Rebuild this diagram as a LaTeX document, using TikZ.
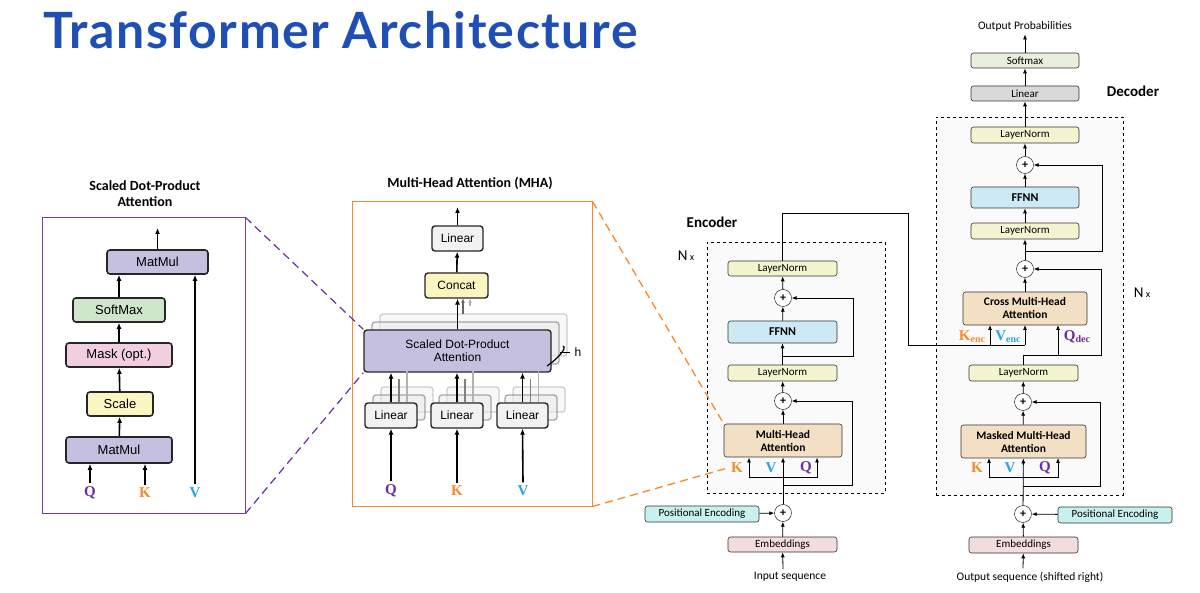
\documentclass[tikz,border=0pt]{standalone}
\usepackage{fontspec}
\setmainfont{Carlito}
\newfontfamily\hel{Liberation Sans}
\newfontfamily\ttl[LetterSpace=3]{Lato}
\newfontfamily\ser{Liberation Serif}
\usetikzlibrary{arrows.meta,decorations.pathreplacing}
\definecolor{tblue}{HTML}{1F4FB5}
\definecolor{ko}{HTML}{F58A2C}
\definecolor{vb}{HTML}{29A3E8}
\definecolor{qp}{HTML}{6A2EA0}
\definecolor{purp}{HTML}{C5C0E0}
\begin{document}
\begin{tikzpicture}[x=1pt,y=-1pt,
 bx/.style={draw=black!80,rounded corners=2.5pt,inner sep=0,font=\fontsize{11}{11}\selectfont,line width=0.6pt},
 ln/.style={bx,fill={rgb,255:red,244;green,245;blue,208}},
 ff/.style={bx,fill={rgb,255:red,205;green,233;blue,245},font=\fontsize{12}{12}\selectfont\bfseries},
 mh/.style={bx,fill={rgb,255:red,242;green,223;blue,196},font=\fontsize{11.5}{13}\selectfont\bfseries,align=center},
 pl/.style={circle,draw,fill=white,minimum size=17pt,inner sep=0,font=\fontsize{12}{12}\selectfont\bfseries},
 ar/.style={-{Latex[length=5pt,width=4pt]},line width=0.8pt},
 ln0/.style={line width=0.8pt},
 lb/.style={font=\ser\fontsize{15}{15}\selectfont\bfseries},
 lb2/.style={font=\ser\fontsize{15}{15}\selectfont\bfseries},
 lp/.style={draw=black!85,line width=1.6pt,rounded corners=3pt,inner sep=0,font=\hel\fontsize{13}{14}\selectfont},
 mp/.style={draw=black!85,line width=1.4pt,rounded corners=3pt,inner sep=0,font=\hel\fontsize{12}{13}\selectfont,align=center,fill=black!5},
 arL/.style={-{Latex[length=6pt,width=5pt]},line width=1.6pt},
 dbox/.style={draw,dashed,line width=0.8pt,fill=black!2}]
\useasboundingbox (0,0) rectangle (1200,593);
\fill[white] (0,0) rectangle (1200,593);
\node[anchor=west,text=tblue,font=\ttl\bfseries\fontsize{50}{50}\selectfont] (title) at (40,30) {Transformer Architecture};

% ---------- left panel
\node[font=\fontsize{14}{16}\selectfont\bfseries,align=center] (lt) at (145,194) {Scaled Dot-Product\\Attention};
\node[draw={rgb,255:red,120;green,60;blue,170},line width=1pt,minimum width=203pt,minimum height=295pt,inner sep=0] (lbox) at (143.5,365.5) {};
\node[lp,fill=purp,minimum width=101pt,minimum height=24pt] (mm1) at (157.5,262) {MatMul};
\node[lp,fill={rgb,255:red,207;green,229;blue,204},minimum width=92pt,minimum height=24pt] (sm) at (119,310) {SoftMax};
\node[lp,fill={rgb,255:red,242;green,207;blue,224},minimum width=106pt,minimum height=24pt] (mask) at (119,355) {Mask (opt.)};
\node[lp,fill={rgb,255:red,251;green,245;blue,192},minimum width=66pt,minimum height=24pt] (sc) at (120,404) {Scale};
\node[lp,fill=purp,minimum width=106pt,minimum height=26pt] (mm2) at (119,450) {MatMul};
\node[lb,text=qp] (lq) at (90,493) {Q};
\node[lb,text=ko] (lk) at (145,493) {K};
\node[lb,text=vb] (lv) at (195,493) {V};
\coordinate (ltop) at (157.5,228);
\draw[arL] (lq.north) -- (lq.north |- mm2.south);
\draw[arL] (lk.north) -- (lk.north |- mm2.south);
\draw[arL] (lv.north) -- (lv.north |- mm1.south);
\draw[arL] (mm2) -- (sc);
\draw[arL] (sc) -- (mask);
\draw[arL] (mask) -- (sm);
\draw[arL] (sm.north) -- (sm.north |- mm1.south);
\draw[arL] (mm1) -- (ltop);

% ---------- middle panel
\node[font=\fontsize{14}{16}\selectfont\bfseries] (mt) at (470,183) {Multi-Head Attention (MHA)};
\node[draw=ko,line width=1pt,minimum width=240pt,minimum height=304pt,inner sep=0] (mbox) at (472,354) {};
\foreach \d/\o in {16/0.3,8/0.55}{
 \draw[black!60,opacity=\o,line width=1.3pt,fill=black!8,rounded corners=3pt] (364+\d,330-\d) rectangle (551+\d,372-\d);
 \foreach \xx in {365,431,497}{
  \draw[black!60,opacity=\o,line width=1.3pt,fill=black!8,rounded corners=3pt] (\xx+\d,403-\d) rectangle (\xx+52+\d,428-\d);}
}
\node[mp,fill=purp,minimum width=187pt,minimum height=42pt] (sdpa) at (457.5,351) {Scaled Dot-Product\\Attention};
\node[mp,minimum width=51pt,minimum height=25pt] (mlin) at (457.5,238.5) {Linear};
\node[mp,fill={rgb,255:red,251;green,245;blue,192},minimum width=63pt,minimum height=25pt] (cc) at (456.5,285.5) {Concat};
\node[mp,minimum width=52pt,minimum height=25pt] (l1) at (391,415.5) {Linear};
\node[mp,minimum width=52pt,minimum height=25pt] (l2) at (457,415.5) {Linear};
\node[mp,minimum width=51pt,minimum height=25pt] (l3) at (522.5,415.5) {Linear};
\node[lb,text=qp] (mq) at (391,491) {Q};
\node[lb,text=ko] (mk) at (457,491) {K};
\node[lb,text=vb] (mv) at (523,491) {V};
\coordinate (mtop) at (457.5,207);
\foreach \a/\b in {mq/l1,mk/l2,mv/l3}{\draw[arL] (\a.north) -- (\b.south);}
\foreach \b in {l1,l2,l3}{\draw[arL] (\b.north) -- (\b.north |- sdpa.south);
 \draw[black!50,line width=1.2pt] ([xshift=8pt]\b.north) -- ++(0,-23);
 \draw[black!30,line width=1.2pt] ([xshift=16pt]\b.north) -- ++(0,-31);}
\draw[arL] (sdpa.north) -- (sdpa.north |- cc.south);
\draw[-{Latex[length=5pt]},black!60,line width=1.2pt] (463,314) -- (463,298);
\draw[-{Latex[length=5pt]},black!30,line width=1.2pt] (470,306) -- (470,298);
\draw[arL] (cc) -- (mlin);
\draw[arL] (mlin) -- (mtop);
\draw[line width=1.2pt] (563,346) .. controls (568,348) and (556,360) .. (547,366);
\draw[line width=1pt] (560,353) -- (570,353);
\node[font=\hel\fontsize{12}{12}\selectfont] (hh) at (578,352) {h};

\draw[qp,line width=1.2pt,dash pattern=on 8pt off 5pt] (lbox.north east) -- (sdpa.north west);
\draw[qp,line width=1.2pt,dash pattern=on 8pt off 5pt] (lbox.south east) -- (sdpa.south west);

% ---------- encoder
\node[font=\fontsize{15}{15}\selectfont\bfseries] (enc) at (712,222) {Encoder};
\node[font=\fontsize{15}{15}\selectfont] (enx) at (686,256) {N\,{\fontsize{10}{10}\selectfont x}};
\node[dbox,minimum width=178pt,minimum height=251pt,inner sep=0] (ebox) at (796,367.5) {};
\node[ln,minimum width=109pt,minimum height=15pt] (eln2) at (782.5,268.5) {LayerNorm};
\node[pl] (ep2) at (783,298) {+};
\node[ff,minimum width=109pt,minimum height=22pt] (eff) at (782.5,332) {FFNN};
\node[ln,minimum width=109pt,minimum height=16pt] (eln1) at (782.5,373) {LayerNorm};
\node[pl] (ep1) at (783,401) {+};
\node[mh,minimum width=118pt,minimum height=33pt] (emha) at (783,440.5) {Multi-Head\\Attention};
\node[pl] (ep0) at (783,513) {+};
\node[bx,fill={rgb,255:red,200;green,240;blue,238},minimum width=114pt,minimum height=16pt] (epe) at (702,514) {Positional Encoding};
\node[bx,fill={rgb,255:red,242;green,220;blue,220},minimum width=109pt,minimum height=15pt] (eemb) at (782.5,544.5) {Embeddings};
\node[font=\fontsize{11.5}{11}\selectfont] (ein) at (790,577) {Input sequence};
\node[lb,text=ko] (ek) at (737,468) {K};
\node[lb,text=vb] (ev) at (771,468) {V};
\node[lb,text=qp] (eq) at (806,468) {Q};
\draw[ko,line width=1.3pt,dash pattern=on 8pt off 5pt] (mbox.north east) -- (emha.north west);
\draw[ko,line width=1.3pt,dash pattern=on 8pt off 5pt] (mbox.south east) -- (ek.west);
\draw[ar] (ein.north -| ep0) -- (eemb);
\draw[ar] (eemb) -- (ep0);
\draw[ar] (epe) -- (ep0);
\coordinate (eb) at (783,477);
\draw[ar] (ep0) -- (emha);
\draw[ar] (eb) -| (749,457.5);
\draw[ar] (eb) -| (817,457.5);
\draw[ar] (783,485) -| (852,401) -- (ep1);
\draw[ar] (emha) -- (ep1);
\draw[ar] (ep1) -- (eln1);
\draw[ar] (eln1) -- (eff);
\draw[ar] (783,356) -| (853,298) -- (ep2);
\draw[ar] (eff) -- (ep2);
\draw[ar] (ep2) -- (eln2);

% ---------- decoder
\node[font=\fontsize{15}{15}\selectfont\bfseries] (dec) at (1133,91) {Decoder};
\node[font=\fontsize{15}{15}\selectfont] (dnx) at (1142,293) {N\,{\fontsize{10}{10}\selectfont x}};
\node[dbox,minimum width=187pt,minimum height=378pt,inner sep=0] (dbx) at (1029.5,306) {};
\node[font=\fontsize{11.5}{11}\selectfont] (dout) at (1025,26) {Output Probabilities};
\node[bx,fill={rgb,255:red,232;green,239;blue,220},minimum width=108pt,minimum height=15pt] (dsm) at (1025,60.5) {Softmax};
\node[bx,fill=black!15,minimum width=108pt,minimum height=15pt] (dlin) at (1025,93.5) {Linear};
\node[ln,minimum width=108pt,minimum height=16pt] (dln3) at (1025,135) {LayerNorm};
\node[pl] (dp3) at (1025,165) {+};
\node[ff,minimum width=108pt,minimum height=21pt] (dff) at (1025,197.5) {FFNN};
\node[ln,minimum width=108pt,minimum height=16pt] (dln2) at (1025,231) {LayerNorm};
\node[pl] (dp2) at (1025,269) {+};
\node[mh,minimum width=124pt,minimum height=33pt] (dcr) at (1025,308.5) {Cross Multi-Head\\Attention};
\node[ln,minimum width=109pt,minimum height=16pt] (dln1) at (1023.5,373) {LayerNorm};
\node[pl] (dp1) at (1023,402) {+};
\node[mh,minimum width=125pt,minimum height=33pt] (dmm) at (1023.5,441.5) {Masked Multi-Head\\Attention};
\node[pl] (dp0) at (1023,514) {+};
\node[bx,fill={rgb,255:red,200;green,240;blue,238},minimum width=114pt,minimum height=16pt] (dpe) at (1115,515) {Positional Encoding};
\node[bx,fill={rgb,255:red,242;green,220;blue,220},minimum width=109pt,minimum height=16pt] (demb) at (1023.5,545) {Embeddings};
\node[font=\fontsize{11.5}{11}\selectfont] (din) at (1030,577) {Output sequence (shifted right)};
\node[lb,text=ko] (dk) at (977,468) {K};
\node[lb,text=vb] (dv) at (1010,468) {V};
\node[lb,text=qp] (dq) at (1045,468) {Q};
\node[lb2,text=ko] (dke) at (972,337) {K\raisebox{-2pt}{\fontsize{10}{10}\selectfont enc}};
\node[lb2,text=vb] (dve) at (1008,337) {V\raisebox{-2pt}{\fontsize{10}{10}\selectfont enc}};
\node[lb2,text=qp] (dqd) at (1077,337) {Q\raisebox{-2pt}{\fontsize{10}{10}\selectfont dec}};
\draw[ar] (din.north -| dp0) -- (demb);
\draw[ar] (demb) -- (dp0);
\draw[ar] (dpe) -- (dp0);
\draw[ar] (dp0) -- (dmm);
\coordinate (db) at (1023,477);
\draw[ar] (db) -| (989,458);
\draw[ar] (db) -| (1058,458);
\draw[ar] (1023,486) -| (1100,402) -- (dp1);
\draw[ar] (dmm) -- (dp1);
\draw[ar] (dp1) -- (dln1);
\draw[ln0] (dln1.north) |- (1101,355) -- (1101,269);
\draw[ar] (1101,269) -- (dp2);
\draw[ar] (1058,355) -- (1058,325);
\draw[ar] (dcr) -- (dp2);
\draw[ar] (dp2) -- (dln2);
\draw[ar] (dln2) -- (dff);
\draw[ar] (1025,251) -| (1102,165) -- (dp3);
\draw[ar] (dff) -- (dp3);
\draw[ar] (dp3) -- (dln3);
\draw[ar] (dln3) -- (dlin);
\draw[ar] (dlin) -- (dsm);
\draw[ar] (dsm) -- (dout);
\draw[ln0] (eln2.north) |- (908,213) |- (1025,345);
\draw[ar] (990,345) -- (990,325);
\draw[ar] (1025,345) -- (1025,325);
\end{tikzpicture}
\end{document}
